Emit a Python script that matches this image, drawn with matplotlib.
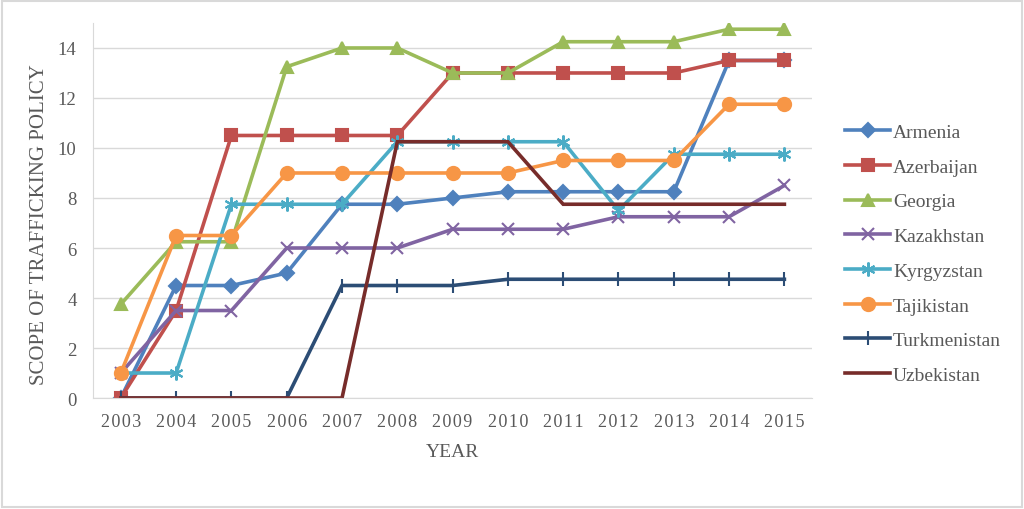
import matplotlib.pyplot as plt
from matplotlib.patches import Rectangle

plt.rcParams['font.family'] = ['Liberation Serif', 'DejaVu Serif']

years = ['2003', '2004', '2005', '2006', '2007', '2008', '2009',
         '2010', '2011', '2012', '2013', '2014', '2015']

armenia = [0, 4.5, 4.5, 5, 7.75, 7.75, 8, 8.25, 8.25, 8.25, 8.25, 13.5, 13.5]
azerbaijan = [0, 3.5, 10.5, 10.5, 10.5, 10.5, 13, 13, 13, 13, 13, 13.5, 13.5]
georgia = [3.75, 6.25, 6.25, 13.25, 14, 14, 13, 13, 14.25, 14.25, 14.25, 14.75, 14.75]
kazakhstan = [1, 3.5, 3.5, 6, 6, 6, 6.75, 6.75, 6.75, 7.25, 7.25, 7.25, 8.5]
kyrgyzstan = [1, 1, 7.75, 7.75, 7.75, 10.25, 10.25, 10.25, 10.25, 7.5, 9.75, 9.75, 9.75]
tajikistan = [1, 6.5, 6.5, 9, 9, 9, 9, 9, 9.5, 9.5, 9.5, 11.75, 11.75]
turkmenistan = [0, 0, 0, 0, 4.5, 4.5, 4.5, 4.75, 4.75, 4.75, 4.75, 4.75, 4.75]
uzbekistan = [0, 0, 0, 0, 0, 10.25, 10.25, 10.25, 7.75, 7.75, 7.75, 7.75, 7.75]

series = [
    ('Armenia', armenia, '#4F81BD', 'D', 7),
    ('Azerbaijan', azerbaijan, '#C0504D', 's', 8.5),
    ('Georgia', georgia, '#9BBB59', '^', 9),
    ('Kazakhstan', kazakhstan, '#8064A2', 'x', 9),
    ('Kyrgyzstan', kyrgyzstan, '#4BACC6', (6, 2, 0), 10),
    ('Tajikistan', tajikistan, '#F79646', 'o', 9.5),
    ('Turkmenistan', turkmenistan, '#2C4D75', '|', 10),
    ('Uzbekistan', uzbekistan, '#772C2A', None, 0),
]

fig = plt.figure(figsize=(10.24, 5.10), dpi=100)
ax = fig.add_axes([0.091, 0.2176, 0.702, 0.7354])

x = list(range(len(years)))
for name, vals, col, mk, ms in series:
    ax.plot(x, vals, color=col, lw=2.6, marker=mk, ms=ms,
            mew=1.5, mec=col, mfc=col, label=name, solid_joinstyle='miter')

ax.set_xlim(-0.5, len(years) - 0.5)
ax.set_ylim(0, 15)
ax.set_yticks(range(0, 15, 2))
ax.set_xticks(x)
ax.set_xticklabels(['\u200a'.join(y) for y in years])
ax.tick_params(axis='both', length=0, labelcolor='#595959')
ax.tick_params(axis='y', pad=12, labelsize=13.5)
ax.tick_params(axis='x', pad=11, labelsize=13)
ax.grid(axis='y', color='#D9D9D9', lw=1)
ax.set_axisbelow(True)
for s in ['top', 'right']:
    ax.spines[s].set_visible(False)
ax.spines['left'].set_color('#D9D9D9')
ax.spines['bottom'].set_color('#D9D9D9')

ax.set_xlabel('YEAR', fontsize=14, color='#595959', labelpad=9)
ax.set_ylabel('SCOPE OF TRAFFICKING POLICY', fontsize=15, color='#595959')
ax.yaxis.set_label_coords(-0.062, 0.464)

leg = ax.legend(loc='center left', bbox_to_anchor=(1.022, 0.385), frameon=False,
                fontsize=14, labelcolor='#595959', handlelength=2.3,
                labelspacing=0.88, handletextpad=0.15)

fig.patches.append(Rectangle((0.002, 0.003), 0.996, 0.994, transform=fig.transFigure,
                             fill=False, edgecolor='#D9D9D9', lw=1.5))

fig.savefig('out.png', dpi=100)
